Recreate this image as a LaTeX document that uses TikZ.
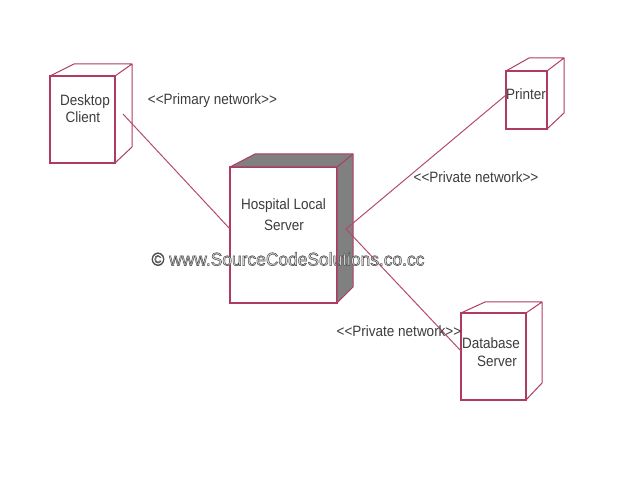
\documentclass[tikz,border=0pt]{standalone}
\usepackage{fontspec}
\setmainfont{Liberation Sans}
\definecolor{nodeline}{HTML}{AE3A66}
\definecolor{linkline}{HTML}{B5496F}
\definecolor{labeltext}{HTML}{3C3C3C}
\definecolor{stampfill}{HTML}{E4E4E4}
\newcommand{\markfont}{\fontsize{18.5}{20}\selectfont}
\newcommand{\stamptext}[1]{\textcolor{stampfill}{\special{pdf:code q 2 Tr 0.55 w 0.3 0.3 0.3 RG}#1\special{pdf:code Q}}}
\begin{document}
\begin{tikzpicture}[x=1pt,y=-1pt]
	\tikzset{device/.style = {shape=rectangle,draw=nodeline,line width=1.1pt,fill=white,inner sep=0pt,outer sep=0pt,anchor=north west}}
	\tikzset{face/.style = {draw=nodeline,line width=1pt,line join=round}}
	\tikzset{link/.style = {draw=linkline,line width=1pt}}
	\tikzset{caption/.style = {text=labeltext,font=\fontsize{15}{17}\selectfont,xscale=.9,inner sep=0pt}}
	\tikzset{stamp/.style = {font=\markfont,inner sep=0pt,xscale=.94}}
	\useasboundingbox (0,0) rectangle (638,478);
	% free ends of the links
	\coordinate (deskend) at (123,114);
	\coordinate (hubend) at (346,229);
	\coordinate (hubleft) at (230,229);
	\coordinate (printend) at (506,95);
	\coordinate (dataend) at (461,351);
	% boxes
	\node[device,minimum width=65pt,minimum height=87pt] (desk) at (50,76) {};
	\draw[face] (desk.north west) -- (74,64) -- (132,64) -- (132,147) -- (desk.south east) (desk.north east) -- (132,64);
	\node[device,minimum width=107pt,minimum height=136pt] (hub) at (230,167) {};
	\draw[face,fill=gray] (hub.north west) -- (255,154) -- (353,154) -- (353,287) -- (hub.south east) -- (hub.north east) -- cycle;
	\draw[face] (hub.north east) -- (353,154);
	\node[device,minimum width=41pt,minimum height=58pt] (printer) at (506,71) {};
	\draw[face] (printer.north west) -- (529,58) -- (564,58) -- (564,113) -- (printer.south east) (printer.north east) -- (564,58);
	\node[device,minimum width=65pt,minimum height=87pt] (data) at (461,313) {};
	\draw[face] (data.north west) -- (485,302) -- (542,302) -- (542,383) -- (data.south east) (data.north east) -- (542,302);
	\path[link] (deskend) -- (hubleft);
	\path[link] (hubend) -- (printend);
	\path[link] (hubend) -- (dataend);
	% texts
	\node[caption] (desktxt1) at (85,101.5) {Desktop};
	\node[caption] (desktxt2) at (83,117) {Client};
	\node[caption] (hubtxt1) at (283.5,205.5) {Hospital Local};
	\node[caption] (hubtxt2) at (284,225) {Server};
	\node[caption] (printtxt) at (526,94) {Printer};
	\node[caption] (datatxt1) at (491,343) {Database};
	\node[caption] (datatxt2) at (497,361) {Server};
	\node[caption] (primary) at (212.5,101) {<{}<Primary network>{}>};
	\node[caption] (private1) at (476,177.5) {<{}<Private network>{}>};
	\node[caption] (private2) at (399,331.5) {<{}<Private network>{}>};
	% watermark
	\node[stamp] (marktxt) at (288,259) {\stamptext{© www.SourceCodeSolutions.co.cc}};
\end{tikzpicture}
\end{document}
